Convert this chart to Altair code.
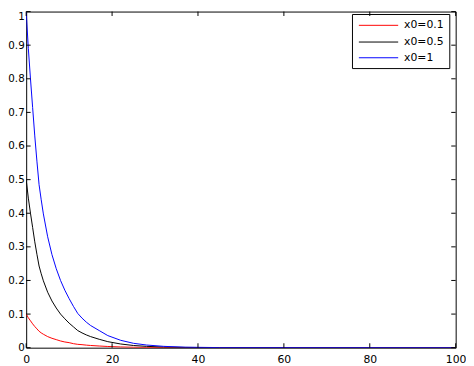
import altair as alt
import pandas as pd

# sampled positions along the horizontal axis
t = [0, 0.5, 1, 1.5, 2, 2.5, 3, 3.5, 4, 5, 6, 7, 8, 9, 10, 11, 12, 13, 14, 15,
     17, 19, 22, 25, 28, 32, 37, 45, 100]

# values
x01 = [0.1, 0.089, 0.080, 0.071, 0.063, 0.056, 0.049, 0.044, 0.040, 0.033, 0.028,
       0.024, 0.020, 0.017, 0.015, 0.012, 0.010, 0.009, 0.0076, 0.0066, 0.005,
       0.0036, 0.0022, 0.0013, 0.0008, 0.0004, 0.00015, 0.00003, 0.0]
x05 = [0.5, 0.445, 0.40, 0.358, 0.315, 0.278, 0.243, 0.22, 0.199, 0.165, 0.139,
       0.118, 0.10, 0.086, 0.073, 0.062, 0.051, 0.044, 0.038, 0.033, 0.025,
       0.018, 0.011, 0.0065, 0.004, 0.002, 0.0008, 0.0002, 0.0]
x1 = [1.0, 0.89, 0.80, 0.715, 0.63, 0.555, 0.485, 0.44, 0.398, 0.33, 0.277,
      0.235, 0.20, 0.171, 0.146, 0.123, 0.102, 0.088, 0.076, 0.066, 0.051,
      0.036, 0.022, 0.013, 0.008, 0.004, 0.0015, 0.0003, 0.0]

series = ["x0=0.1", "x0=0.5", "x0=1"]
colors = ["#ff0000", "#000000", "#0000ff"]

xticks = [0, 20, 40, 60, 80, 100]
yticks = [0, 0.1, 0.2, 0.3, 0.4, 0.5, 0.6, 0.7, 0.8, 0.9, 1]

W, H = 437, 342
TL = 4.5  # inward tick length

# legend box layout (pixels inside the plot area)
LBOX = (332, 431, 3, 58)
LROWS = [14, 31, 47]
LSYM = (338.5, 378.5)
LTXT = 384.5

rows = []
for name, vals in zip(series, [x01, x05, x1]):
    for tt, v in zip(t, vals):
        rows.append({"t": tt, "v": v, "s": name})
df = pd.DataFrame(rows)
dx = pd.DataFrame({"xt": xticks})
dy = pd.DataFrame({"yt": yticks})
dl = pd.DataFrame({"s": series})

FONT = "DejaVu Sans"

xs = alt.Scale(domain=[0, 100], nice=False, zero=False)
ys = alt.Scale(domain=[0, 1], nice=False, zero=False)
cs = alt.Scale(domain=series, range=colors)

ylab = "datum.value == 0 ? '0' : datum.value == 1 ? '1' : format(datum.value, '.1f')"

xax = alt.Axis(values=xticks, format="d", ticks=False, domain=False,
               grid=False, labelPadding=6, labelFont=FONT,
               labelFontSize=11, labelColor="#000",
               labelFlush=False, labelOverlap=False)
yax = alt.Axis(values=yticks, labelExpr=ylab, ticks=False, domain=False,
               grid=False, labelPadding=2, labelFont=FONT,
               labelFontSize=10.5, labelColor="#000",
               labelFlush=False, labelOverlap=False,
               labelBaseline={"condition": {"test": "datum.value == 1", "value": "top"},
                              "value": "middle"})

lines = alt.Chart(df).mark_line(strokeWidth=1, clip=True).encode(
    x=alt.X("t:Q", scale=xs, title=None, axis=xax),
    y=alt.Y("v:Q", scale=ys, title=None, axis=yax),
    color=alt.Color("s:N", scale=cs, legend=None),
)

bt = alt.Chart(dx).mark_rule(color="#000", strokeWidth=1).encode(
    x=alt.X("xt:Q", scale=xs, title=None, axis=xax), y=alt.value(H), y2=alt.value(H - TL))
tt_ = alt.Chart(dx).mark_rule(color="#000", strokeWidth=1).encode(
    x=alt.X("xt:Q", scale=xs, title=None, axis=xax), y=alt.value(0), y2=alt.value(TL))
lt = alt.Chart(dy).mark_rule(color="#000", strokeWidth=1).encode(
    y=alt.Y("yt:Q", scale=ys, title=None, axis=yax), x=alt.value(0), x2=alt.value(TL))
rt = alt.Chart(dy).mark_rule(color="#000", strokeWidth=1).encode(
    y=alt.Y("yt:Q", scale=ys, title=None, axis=yax), x=alt.value(W), x2=alt.value(W - TL))

# legend
box = alt.Chart(dl.head(1)).mark_rect(fill="#fff", stroke="#000", strokeWidth=1).encode(
    x=alt.value(LBOX[0]), x2=alt.value(LBOX[1]),
    y=alt.value(LBOX[2]), y2=alt.value(LBOX[3]))
legend_layers = [box]
for i, s in enumerate(series):
    sub = alt.Chart(dl).transform_filter(alt.datum.s == s)
    legend_layers.append(sub.mark_rule(strokeWidth=1).encode(
        x=alt.value(LSYM[0]), x2=alt.value(LSYM[1]), y=alt.value(LROWS[i]),
        color=alt.Color("s:N", scale=cs, legend=None)))
    legend_layers.append(sub.mark_text(align="left", baseline="middle", font=FONT,
                                       fontSize=11, color="#000").encode(
        x=alt.value(LTXT), y=alt.value(LROWS[i]), text="s:N"))

chart = alt.layer(lines, *legend_layers, bt, tt_, lt, rt).properties(
    width=W, height=H,
    autosize=alt.AutoSizeParams(type="none"),
    padding={"left": 18.5, "top": 0.5, "right": 10.5, "bottom": 15.5},
    background="#ffffff",
).configure_view(stroke="#000", strokeWidth=1)

chart.save("out.html", embed_options={"renderer": "svg", "actions": False})
